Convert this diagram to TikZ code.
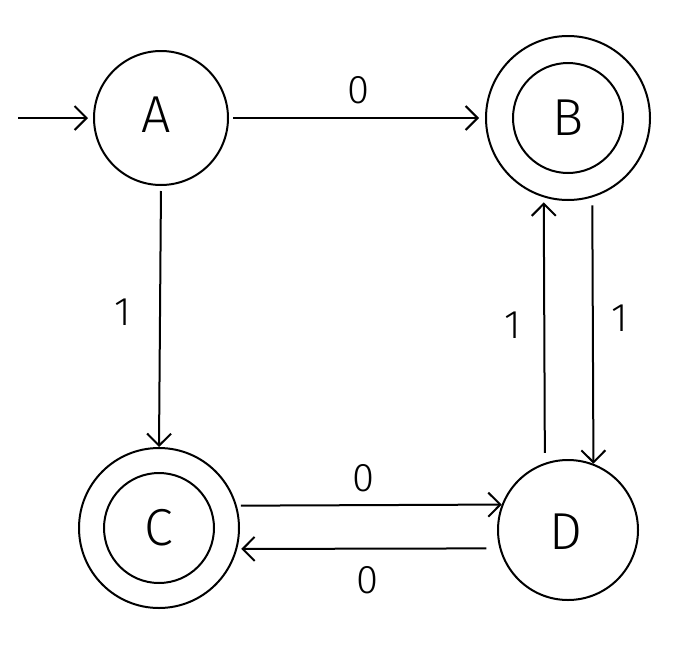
\documentclass[tikz,border=0pt]{standalone}
\usepackage{fontspec}
\setmainfont{Fira Sans}[UprightFont={* Light}]
\usetikzlibrary{arrows.meta}
\begin{document}
\begin{tikzpicture}[x=1pt,y=-1pt,
  state/.style={circle,draw,line width=2pt,inner sep=0pt},
  lettr/.style={font=\fontsize{52}{52}\selectfont},
  lbl/.style={font=\fontsize{40}{40}\selectfont,inner sep=0pt},
  trans/.style={line width=2pt,-{Straight Barb[length=12pt,width=24pt,line width=2pt]}}]
\useasboundingbox (0,0) rectangle (699,664);
\node[state,minimum size=134pt] (A) at (161,118) {};
\node[state,minimum size=164pt] (B) at (568,118) {};
\node[state,minimum size=110pt] (Bi) at (568,118) {};
\node[state,minimum size=160pt] (C) at (159,528) {};
\node[state,minimum size=110pt] (Ci) at (159,528) {};
\node[state,minimum size=140pt] (D) at (568,530) {};
\node[lettr] (tA) at (156,115) {A};
\node[lettr] (tB) at (568,118) {B};
\node[lettr] (tC) at (159,528) {C};
\node[lettr] (tD) at (566,532) {D};
\coordinate (start) at (18,118);
\draw[trans,shorten >=5pt] (start) -- (A.west);
\draw[trans,shorten <=4pt,shorten >=6pt] (A.east) -- (B.west);
\draw[trans,shorten <=5pt] (A.south) -- (C.north);
\draw[trans,shorten <=4pt] (C.16.7) -- (D.159.1);
\draw[trans,shorten <=13pt,shorten >=4pt] (D.195.7) -- (C.-15.2);
\draw[trans,shorten <=10pt,shorten >=5pt] (D.109.2) -- (B.253.7);
\draw[trans,shorten <=8pt] (B.287.7) -- (D.69.1);
\node[lbl] (l1) at (358,90) {0};
\node[lbl] (l2) at (123,312) {1};
\node[lbl] (l3) at (363,478) {0};
\node[lbl] (l4) at (367,580) {0};
\node[lbl] (l5) at (513,325) {1};
\node[lbl] (l6) at (620,318) {1};
\end{tikzpicture}
\end{document}
